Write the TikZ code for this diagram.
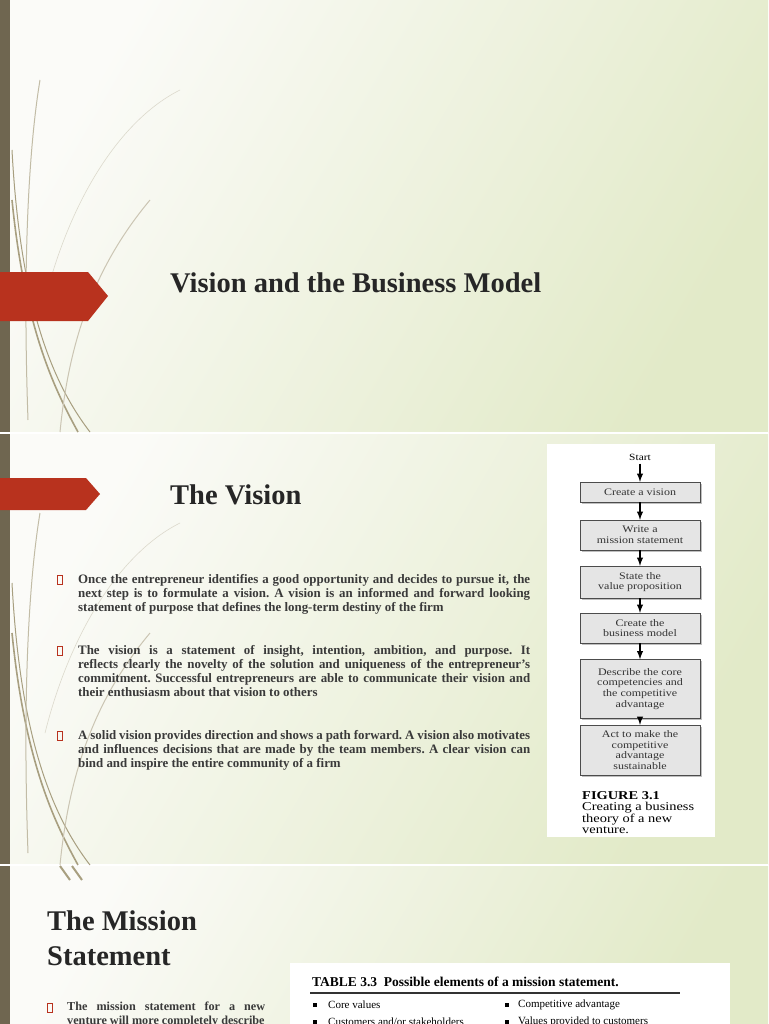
\documentclass[tikz,border=0pt]{standalone}
\usepackage{fontspec}
\setmainfont{Liberation Serif}
\newfontfamily\widefont[FakeStretch=1.2]{Liberation Serif}
\newcommand\nohyph{\hyphenpenalty=10000\exhyphenpenalty=10000\frenchspacing\relax}
\usetikzlibrary{shadows}
\definecolor{barc}{HTML}{6F6650}
\definecolor{tabc}{HTML}{B8321E}
\definecolor{bgl}{HTML}{FBFBF8}
\definecolor{bgg}{HTML}{E2EAC8}
\definecolor{txt}{HTML}{262626}
\definecolor{bodyc}{HTML}{3A3A3A}
\definecolor{grass}{HTML}{A89F80}
\tikzset{
 x=1pt,y=-1pt,
 slidebg/.style={left color=bgl,right color=bgg,shading angle=60},
 tabshape/.style={fill=tabc,draw=none},
 ttl/.style={anchor=west,font=\bfseries\fontsize{28.5}{32}\selectfont,text=txt,inner sep=0},
 para/.style={anchor=north west,align=justify,text width=452pt,font=\bfseries\fontsize{12.9}{14}\selectfont\nohyph,text=bodyc,inner sep=0},
 bul/.style={draw=tabc,line width=0.8pt,minimum width=5pt,minimum height=9pt,inner sep=0},
 fbox/.style={draw=black!70,fill=black!10,minimum width=120pt,align=center,inner sep=1pt,font=\widefont\fontsize{10}{10.8}\selectfont,text=black!80,drop shadow={shadow xshift=1.5pt,shadow yshift=-1.5pt,fill=black!50}},
 farr/.style={-latex,line width=1.8pt},
 grassline/.style={draw=grass,line width=1pt},
}
\begin{document}
\begin{tikzpicture}
\useasboundingbox (0,0) rectangle (768,1024);
\begin{scope}
\clip (0,0) rectangle (768,1024);
% slide backgrounds
\shade[slidebg] (0,0) rectangle (768,432);
\shade[slidebg] (0,434) rectangle (768,864);
\shade[slidebg] (0,866) rectangle (768,1024);
\fill[white] (0,432) rectangle (768,434);
\fill[white] (0,864) rectangle (768,866);
% grass curves
\foreach \o in {0,433}{
 \begin{scope}[yshift=-\o]
 \draw[grassline] (12,150) .. controls (20,300) and (50,380) .. (90,432);
 \draw[grassline,line width=1.6pt] (12,200) .. controls (25,330) and (55,390) .. (78,432);
 \draw[grassline,draw=grass!70] (28,420) .. controls (22,250) and (30,140) .. (40,80);
 \draw[grassline,draw=grass!60] (60,432) .. controls (70,330) and (100,260) .. (150,200);
 \draw[grassline,draw=grass!40,line width=0.6pt] (45,300) .. controls (70,200) and (120,120) .. (180,90);
 \end{scope}}
\draw[grassline,line width=2pt] (60,866) -- (70,880);
\draw[grassline,line width=2pt] (72,866) -- (82,880);
% left bars
\fill[barc] (0,0) rectangle (10,432);
\fill[barc] (0,434) rectangle (10,864);
\fill[barc] (0,866) rectangle (10,1024);
% tabs
\fill[tabshape] (0,272) -- (88,272) -- (108,296) -- (88,321) -- (0,321) -- cycle;
\fill[tabshape] (0,478) -- (86,478) -- (100,494) -- (86,510) -- (0,510) -- cycle;
% titles
\node[ttl] (t1) at (170,283) {Vision and the Business Model};
\node[ttl] (t2) at (170,495) {The Vision};
% paragraphs
\node[para] (p1) at (78,574) {Once the entrepreneur identifies a good opportunity and decides to pursue it, the next step is to formulate a vision. A vision is an informed and forward looking statement of purpose that defines the long-term destiny of the firm};
\node[bul] (b1) at (60,580) {};
\node[para] (p2) at (78,645) {The vision is a statement of insight, intention, ambition, and purpose. It reflects clearly the novelty of the solution and uniqueness of the entrepreneur’s commitment. Successful entrepreneurs are able to communicate their vision and their enthusiasm about that vision to others};
\node[bul] (b2) at (60,651) {};
\node[para] (p3) at (78,730) {A solid vision provides direction and shows a path forward. A vision also motivates and influences decisions that are made by the team members. A clear vision can bind and inspire the entire community of a firm};
\node[bul] (b3) at (60,736) {};
% flowchart panel
\fill[white] (547,444) rectangle (715,837);
\node[font=\widefont\fontsize{9.5}{10}\selectfont] (st) at (640,457) {Start};
\node[fbox,minimum height=20pt] (f1) at (640,492) {Create a vision};
\node[fbox,minimum height=30pt] (f2) at (640,535) {Write a\\mission statement};
\node[fbox,minimum height=32pt] (f3) at (640,582) {State the\\value proposition};
\node[fbox,minimum height=30pt] (f4) at (640,628) {Create the\\business model};
\node[fbox,minimum height=59pt] (f5) at (640,689) {Describe the core\\competencies and\\the competitive\\advantage};
\node[fbox,minimum height=50pt] (f6) at (640,750) {Act to make the\\competitive\\advantage\\sustainable};
\draw[farr] (st) -- (f1);
\draw[farr] (f1) -- (f2);
\draw[farr] (f2) -- (f3);
\draw[farr] (f3) -- (f4);
\draw[farr] (f4) -- (f5);
\draw[farr] (f5) -- (f6);
\node[anchor=north west,align=left,inner sep=0,font=\widefont\fontsize{12}{11.6}\selectfont] (cap) at (582,791) {\textbf{FIGURE 3.1}\\Creating a business\\theory of a new\\venture.};
% slide 3
\node[anchor=north west,align=left,inner sep=0,font=\bfseries\fontsize{28.5}{35}\selectfont,text=txt] (t3) at (47,911) {The Mission\\Statement};
\node[bul] (b4) at (50,1008) {};
\node[anchor=north west,align=justify,text width=198pt,inner sep=0,font=\bfseries\fontsize{12.2}{14}\selectfont\nohyph,text=bodyc] (p4) at (67,1002) {The mission statement for a new venture will more completely describe};
% table panel
\fill[white] (290,963) rectangle (730,1024);
\node[anchor=west,inner sep=0,font=\bfseries\fontsize{13.5}{14}\selectfont] (tt) at (312,982) {TABLE 3.3\enspace Possible elements of a mission statement.};
\draw[line width=1.8pt,black!80] (310,993) coordinate (r1) -- (680,993) coordinate (r2);
\foreach \yy/\a/\b in {1005/{Core values}/{Competitive advantage},1022/{Customers and{/}or stakeholders}/{Values provided to customers}}{
 \fill (313,\yy-2) rectangle (317,\yy+2);
 \node[anchor=west,inner sep=0,font=\fontsize{11}{12}\selectfont] at (328,\yy) {\a};
 \fill (505,\yy-2) rectangle (509,\yy+2);
 \node[anchor=west,inner sep=0,font=\fontsize{11}{12}\selectfont] at (518,\yy) {\b};
}
\end{scope}
\end{tikzpicture}
\end{document}
